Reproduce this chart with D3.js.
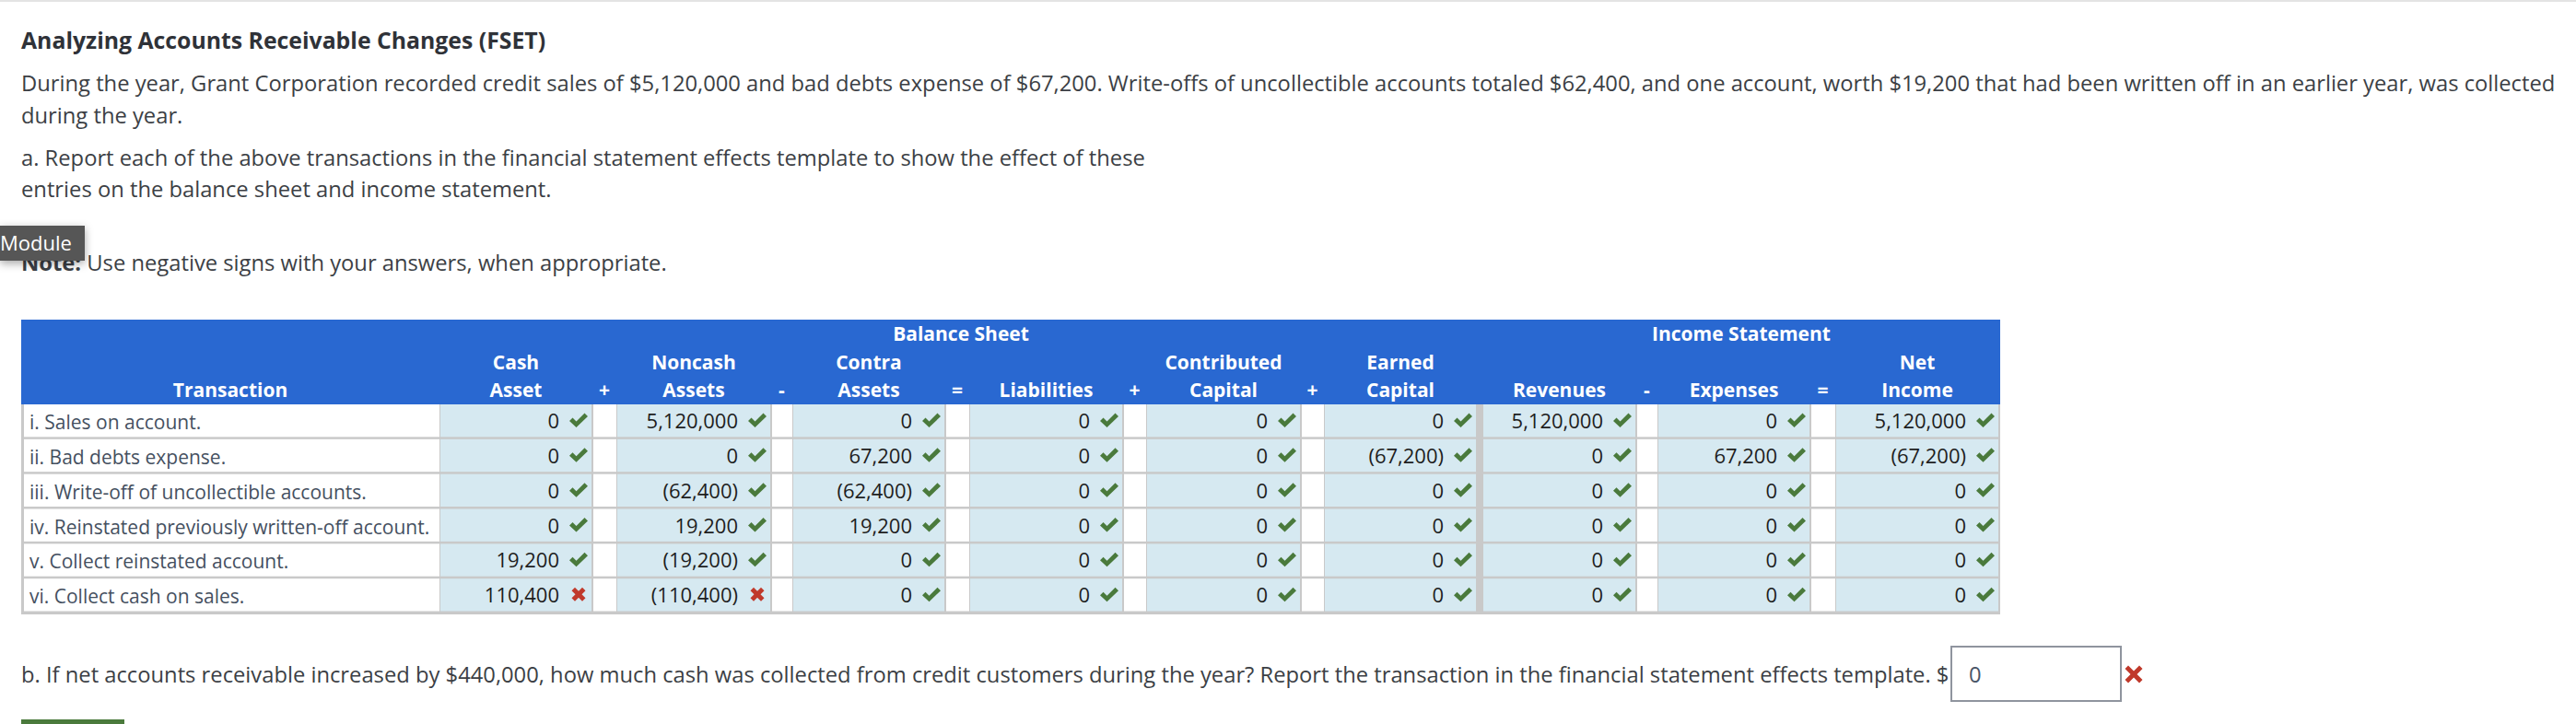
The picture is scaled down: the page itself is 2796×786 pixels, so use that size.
<!DOCTYPE html>
<html>
<head>
<meta charset="utf-8">
<script src="https://cdnjs.cloudflare.com/ajax/libs/d3/7.8.5/d3.min.js"></script>
<style>
  html, body { margin: 0; padding: 0; background: #fff; overflow: hidden; }
  text { font-family: "Open Sans", sans-serif; }
</style>
</head>
<body>
<div id="chart"></div>
<script>
// question text
var titleText = "Analyzing Accounts Receivable Changes (FSET)";
var introLines = [
	"During the year, Grant Corporation recorded credit sales of $5,120,000 and bad debts expense of $67,200. Write-offs of uncollectible accounts totaled $62,400, and one account, worth $19,200 that had been written off in an earlier year, was collected",
	"during the year."
];
var partALines = [
	"a. Report each of the above transactions in the financial statement effects template to show the effect of these",
	"entries on the balance sheet and income statement."
];
var noteText = " Use negative signs with your answers, when appropriate.";
var partBText = "b. If net accounts receivable increased by $440,000, how much cash was collected from credit customers during the year? Report the transaction in the financial statement effects template. $";

// table data
var transactions = [
	"i. Sales on account.",
	"ii. Bad debts expense.",
	"iii. Write-off of uncollectible accounts.",
	"iv. Reinstated previously written-off account.",
	"v. Collect reinstated account.",
	"vi. Collect cash on sales."
];
var cashAsset = [0, 0, 0, 0, 19200, 110400];
var noncashAssets = [5120000, 0, -62400, 19200, -19200, -110400];
var contraAssets = [0, 67200, -62400, 19200, 0, 0];
var liabilities = [0, 0, 0, 0, 0, 0];
var contributedCapital = [0, 0, 0, 0, 0, 0];
var earnedCapital = [0, -67200, 0, 0, 0, 0];
var revenues = [5120000, 0, 0, 0, 0, 0];
var expenses = [0, 67200, 0, 0, 0, 0];
var netIncome = [5120000, -67200, 0, 0, 0, 0];

var columnNames = ["Cash Asset", "Noncash Assets", "Contra Assets", "Liabilities", "Contributed Capital", "Earned Capital", "Revenues", "Expenses", "Net Income"];
var columnValues = [cashAsset, noncashAssets, contraAssets, liabilities, contributedCapital, earnedCapital, revenues, expenses, netIncome];
var operators = ["+", "-", "=", "+", "+", "", "-", "="];
var wrongCells = ["Cash Asset|5", "Noncash Assets|5"];
var groupNames = ["Balance Sheet", "Income Statement"];

// layout, measured off the page
var W = 2796, H = 786;
var cellLefts = [478, 670, 861, 1053, 1245, 1438, 1610, 1800, 1993];
var cellRights = [642, 836, 1025, 1218, 1411, 1602, 1775, 1964, 2169];
var groupCenters = [1043, 1890];
var grey = "#c9c9c9", blue = "#2968d1", cellBlue = "#d6e9f1", green = "#4a7a3c", red = "#c0392b";
var bodyText = "#3c3f45", labelText = "#45505f", valueText = "#1e1e1e";

var left = d3.scaleOrdinal(columnNames, cellLefts);
var right = d3.scaleOrdinal(columnNames, cellRights);
var y = d3.scaleBand().domain(transactions).range([439, 666]);
var fmt = d3.format(",");
var money = function(v) { return v < 0 ? "(" + fmt(-v) + ")" : fmt(v); };

var checkPath = "M-10,1 L-6.5,-2.5 L-2.5,1.5 L6.5,-7.5 L10,-4 L-2.5,8 Z";
var crossPath = function(s) {
	return d3.line()([[-s,-s+3.5],[-s+3.5,-s],[0,-3.5],[s-3.5,-s],[s,-s+3.5],[3.5,0],[s,s-3.5],[s-3.5,s],[0,3.5],[-s+3.5,s],[-s,s-3.5],[-3.5,0]]) + "Z";
};

var svg = d3.select("#chart").append("svg").attr("width", W).attr("height", H).style("display", "block");
var defs = svg.append("defs");
var shadow = defs.append("filter").attr("id", "shadow").attr("x", "-30%").attr("y", "-40%").attr("width", "160%").attr("height", "200%");
shadow.append("feDropShadow").attr("dx", 0).attr("dy", 3).attr("stdDeviation", 5).attr("flood-color", "#000").attr("flood-opacity", 0.35);

svg.append("rect").attr("width", W).attr("height", 2).attr("fill", "#e3e3e3");

// text above the table
function textBlock(lines, yStart, step) {
	svg.append("g").selectAll("text").data(lines).enter().append("text")
		.attr("x", 23).attr("y", function(d, i) { return yStart + i * step; })
		.attr("font-size", 23.75).attr("fill", bodyText).text(function(d) { return d; });
}
svg.append("text").attr("x", 23).attr("y", 53).attr("font-size", 24.8).attr("font-weight", 700).attr("fill", "#2f3238").text(titleText);
textBlock(introLines, 99, 35);
textBlock(partALines, 180, 34);

var note = svg.append("text").attr("x", 23).attr("y", 294).attr("font-size", 23.75).attr("fill", bodyText);
note.append("tspan").attr("font-weight", 700).text("Note:");
note.append("tspan").attr("xml:space", "preserve").text(noteText);

// module tag sits over the note
svg.append("rect").attr("x", 0).attr("y", 245).attr("width", 92).attr("height", 38).attr("fill", "#565656").attr("filter", "url(#shadow)");
svg.append("text").attr("x", 0).attr("y", 272).attr("font-size", 22).attr("fill", "#fff").text("Module");

// header
svg.append("rect").attr("x", 23).attr("y", 347).attr("width", 2171 - 23).attr("height", 92).attr("fill", blue);
svg.append("rect").attr("x", 23).attr("y", 439).attr("width", 2171 - 23).attr("height", 228).attr("fill", grey);

var header = svg.append("g").attr("fill", "#fff").attr("font-weight", 700).attr("font-size", 21).attr("text-anchor", "middle");
header.selectAll(".group").data(groupNames).enter().append("text").attr("class", "group")
	.attr("x", function(d, i) { return groupCenters[i]; }).attr("y", 370).text(function(d) { return d; });
header.append("text").attr("x", 250).attr("y", 431).text("Transaction");
columnNames.forEach(function(name) {
	var cx = (left(name) + right(name)) / 2;
	var words = name.split(" ");
	words.forEach(function(w, i) {
		header.append("text").attr("x", cx).attr("y", 431 - (words.length - 1 - i) * 30).text(w);
	});
});
header.selectAll(".op").data(operators).enter().append("text").attr("class", "op")
	.attr("x", function(d, i) { return (cellRights[i] + cellLefts[i + 1]) / 2; })
	.attr("y", 431).text(function(d) { return d; });

// rows
var rows = svg.append("g").selectAll("g").data(transactions).enter().append("g")
	.attr("transform", function(d) { return "translate(0," + y(d) + ")"; });
var rowH = y.bandwidth() - 2.5;

rows.append("rect").attr("x", 26).attr("y", 0).attr("width", 477 - 26).attr("height", rowH).attr("fill", "#fff");
rows.append("text").attr("x", 32).attr("y", 27).attr("font-size", 21).attr("fill", labelText).text(function(d) { return d; });

// white operator gaps
operators.forEach(function(op, i) {
	if (op === "") return;
	rows.append("rect").attr("x", cellRights[i] + 2).attr("width", cellLefts[i + 1] - cellRights[i] - 3)
		.attr("height", rowH).attr("fill", "#fff");
});

columnNames.forEach(function(name, c) {
	var vals = columnValues[c];
	rows.append("rect").attr("x", left(name)).attr("width", right(name) - left(name)).attr("height", rowH).attr("fill", cellBlue);
	rows.append("text").attr("x", right(name) - 35).attr("y", 26).attr("text-anchor", "end")
		.attr("font-size", 22).attr("fill", valueText)
		.text(function(d, i) { return money(vals[i]); });
	rows.append("path")
		.attr("transform", "translate(" + (right(name) - 14) + ",17)")
		.attr("d", function(d, i) { return wrongCells.indexOf(name + "|" + i) >= 0 ? crossPath(7.5) : checkPath; })
		.attr("fill", function(d, i) { return wrongCells.indexOf(name + "|" + i) >= 0 ? red : green; });
});

// part b
svg.append("text").attr("x", 23).attr("y", 741).attr("font-size", 23.75).attr("fill", bodyText).text(partBText);
svg.append("rect").attr("x", 2118).attr("y", 702).attr("width", 184).attr("height", 59).attr("fill", "#fff").attr("stroke", "#8f949e").attr("stroke-width", 2);
svg.append("text").attr("x", 2137).attr("y", 741).attr("font-size", 23.75).attr("fill", "#4a5568").text("0");
svg.append("path").attr("transform", "translate(2316,732)").attr("d", crossPath(9.5)).attr("fill", red);

svg.append("rect").attr("x", 23).attr("y", 781).attr("width", 112).attr("height", 5).attr("fill", green);
</script>
</body>
</html>
